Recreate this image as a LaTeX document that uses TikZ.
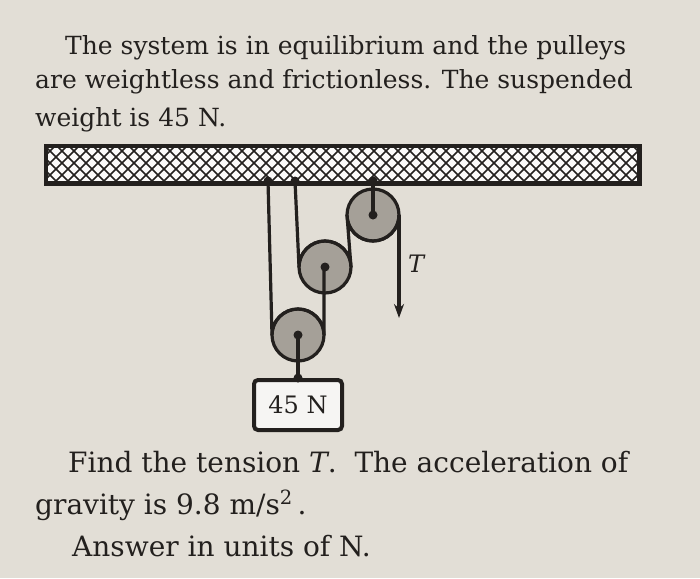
\documentclass[tikz,border=0pt]{standalone}
\usepackage{fontspec}
\setmainfont{DejaVu Serif}
\usetikzlibrary{arrows.meta}
\definecolor{paper}{RGB}{226,222,214}
\definecolor{ink}{RGB}{35,32,30}
\definecolor{pul}{RGB}{165,160,152}
\begin{document}
\begin{tikzpicture}[x=1pt,y=-1pt,
  txt/.style={anchor=base west,inner sep=0,text=ink,font=\fontsize{25}{29}\selectfont},
  btxt/.style={txt,font=\fontsize{28}{32}\selectfont},
  rope/.style={draw=ink,line width=3.2pt},
  pulley/.style={circle,draw=ink,line width=3.2pt,fill=pul,minimum size=52pt,inner sep=0},
  pin/.style={circle,fill=ink,minimum size=9pt,inner sep=0}]
\fill[paper] (0,0) rectangle (700,578);
\useasboundingbox (0,0) rectangle (700,578);
\node[txt] (t1) at (65,55) {The system is in equilibrium and the pulleys};
\node[txt] (t2) at (35,88) {are weightless and frictionless. The suspended};
\node[txt] (t3) at (35,126) {weight is 45 N.};
% ceiling
\node[draw=ink,line width=3pt,fill=white!85!paper,minimum width=592pt,minimum height=36pt,inner sep=0,anchor=north west] (ceil) at (45,145) {};
\begin{scope}
\clip (45,145) rectangle (637,181);
\foreach \i in {0,...,56} {
  \draw[ink,line width=1.6pt] (20+12*\i,145) -- (56+12*\i,181);
  \draw[ink,line width=1.6pt] (56+12*\i,145) -- (20+12*\i,181);
}
\end{scope}
\draw[ink,line width=3pt] (ceil.north west) rectangle (ceil.south east);
\coordinate (a1) at (268,181);
\coordinate (a2) at (295,181);
\coordinate (a3) at (373,181);
\node[pulley] (p3) at (373,215) {};
\node[pulley] (p2) at (325,267) {};
\node[pulley] (p1) at (298,335) {};
% ropes
\draw[rope] (a1) -- (272,335) arc[start angle=180,end angle=360,radius=26] -- (324,267);
\draw[rope] (a2) -- (299,267) arc[start angle=180,end angle=360,radius=26] -- (347,215) arc[start angle=180,end angle=0,radius=26];
\coordinate (tend) at (399,318);
\draw[rope,-{Stealth[length=14pt,width=10pt]}] (399,215) -- (tend);
\draw[rope] (a3) -- (p3.center);
\node[txt,font=\fontsize{24}{28}\selectfont\itshape] (tl) at (408,272) {T};
% block
\node[draw=ink,line width=4pt,rounded corners=4pt,minimum width=88pt,minimum height=50pt,fill=white!70!paper,font=\fontsize{24}{28}\selectfont,text=ink] (blk) at (298,405) {45 N};
\draw[rope] (p1.center) -- (blk.north);
\foreach \p in {a1,a2,a3,p1.center,p2.center,p3.center,blk.north} \node[pin] at (\p) {};
\node[btxt] (b1) at (68,472) {Find the tension \textit{T}.\ \ The acceleration of};
\node[btxt] (b2) at (35,514) {gravity is 9.8 m/s\textsuperscript{2}\,.};
\node[btxt] (b3) at (72,556) {Answer in units of N.};
\end{tikzpicture}
\end{document}
